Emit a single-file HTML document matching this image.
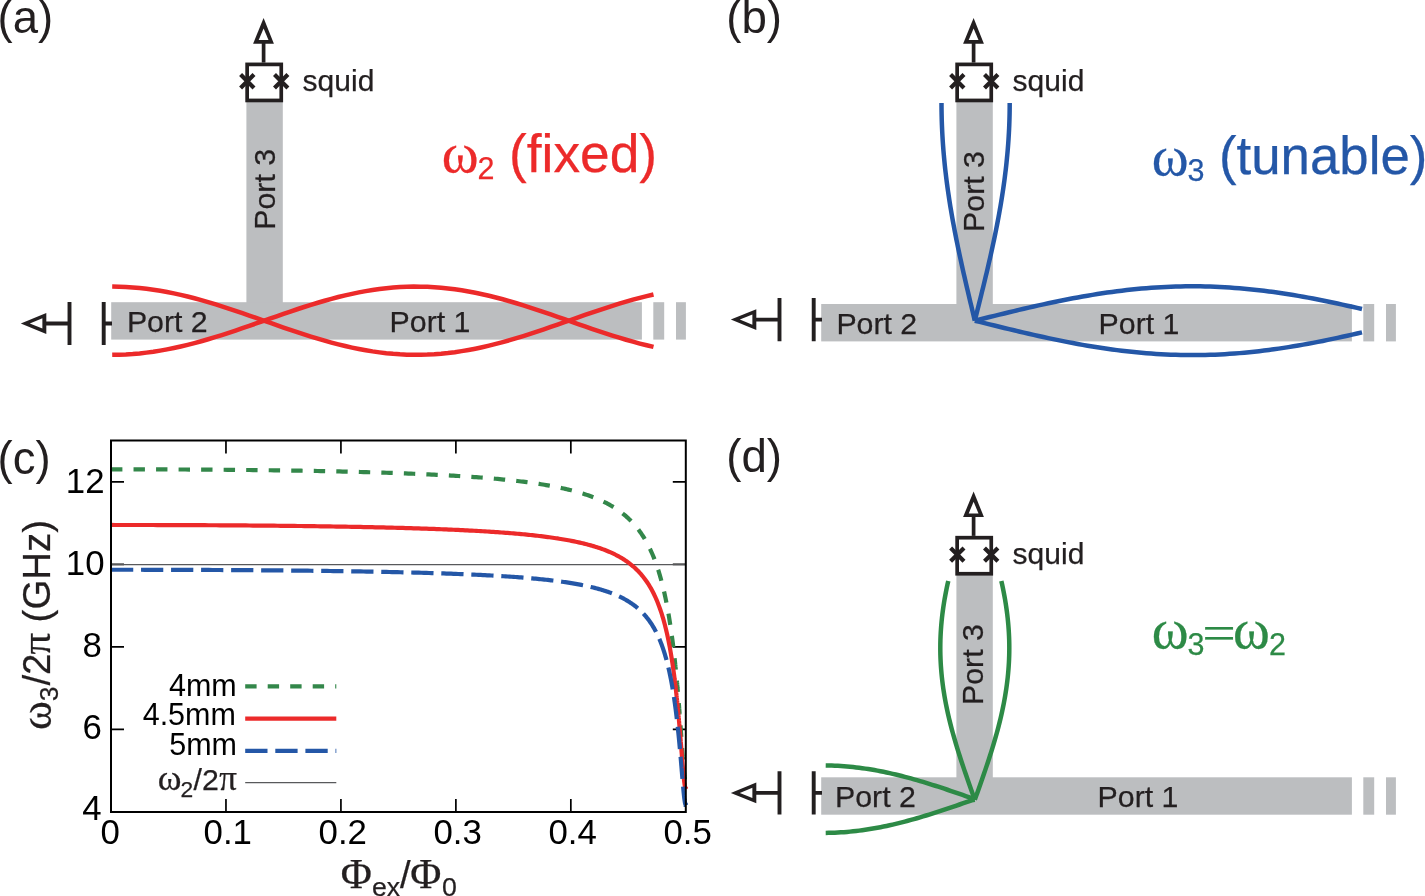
<!DOCTYPE html>
<html lang="en"><head><meta charset="utf-8"><title>Figure</title>
<style>html,body{margin:0;padding:0;background:#fff}svg{display:block}text{font-family:"Liberation Sans", sans-serif;fill:#231f20;stroke:#231f20;stroke-width:.25px}.pl{stroke:none}.sy{font-family:"Liberation Serif", serif}</style>
</head><body>
<svg width="1425" height="896" viewBox="0 0 1425 896">
<rect width="1425" height="896" fill="#fff"/>
<g id="panel-a">
<rect x="246.4" y="100" width="36.4" height="203.2" fill="#bcbec0"/>
<rect x="111.2" y="302.2" width="530.7" height="37.4" fill="#bcbec0"/>
<rect x="653.3" y="302.2" width="10.9" height="37.4" fill="#bcbec0"/>
<rect x="676" y="302.2" width="9.9" height="37.4" fill="#bcbec0"/>
<text x="126.9" y="331.8" font-size="30.3">Port 2</text>
<text x="389.6" y="331.8" font-size="30.3">Port 1</text>
<text transform="translate(274.7,229.7) rotate(-90)" font-size="30.3">Port 3</text>
<g transform="translate(0,0)" stroke="#231f20" fill="none" stroke-width="3.9">
<path d="M69.5,301.9V345.1M103.7,301.9V345.1M103.7,323.5H112M69.5,323.5H44"/>
<path d="M20.8,323.5L46.3,313.1V333.9Z" fill="#231f20" stroke="none"/>
<path d="M29.8,323.5L42.4,318.3V328.6Z" fill="#fff" stroke="none"/>
</g>
<g transform="translate(0,0)" stroke="#231f20" fill="none" stroke-width="3.7">
<rect x="247.15" y="64.4" width="34.1" height="36.05" fill="#fff"/>
<path d="M263.6,62.6V42"/>
<path d="M263.6,18.1L273.9,43.7H253.1Z" fill="#231f20" stroke="none"/>
<path d="M263.6,28.5L268.5,40.1H258.7Z" fill="#fff" stroke="none"/>
<path d="M240.6,74.6L254,88M254,74.6L240.6,88" stroke-width="4.2"/>
<path d="M274.5,74.6L287.9,88M287.9,74.6L274.5,88" stroke-width="4.2"/>
</g>
<text x="302.6" y="90.8" font-size="30">squid</text>
<path d="M112.2,286.6 L119.05,286.7 L125.9,286.97 L132.76,287.4 L139.61,288 L146.46,288.77 L153.31,289.69 L160.16,290.77 L167.02,292 L173.87,293.37 L180.72,294.88 L187.57,296.52 L194.42,298.28 L201.27,300.15 L208.13,302.12 L214.98,304.18 L221.83,306.33 L228.68,308.55 L235.53,310.83 L242.39,313.16 L249.24,315.53 L256.09,317.92 L262.94,320.33 L269.79,322.74 L276.65,325.13 L283.5,327.51 L290.35,329.85 L297.2,332.15 L304.05,334.39 L310.91,336.56 L317.76,338.65 L324.61,340.65 L331.46,342.56 L338.31,344.35 L345.16,346.03 L352.02,347.58 L358.87,348.99 L365.72,350.26 L372.57,351.39 L379.42,352.36 L386.28,353.18 L393.13,353.83 L399.98,354.32 L406.83,354.64 L413.68,354.79 L420.54,354.77 L427.39,354.58 L434.24,354.22 L441.09,353.69 L447.94,353 L454.79,352.15 L461.65,351.14 L468.5,349.98 L475.35,348.67 L482.2,347.22 L489.05,345.64 L495.91,343.94 L502.76,342.12 L509.61,340.19 L516.46,338.17 L523.31,336.05 L530.17,333.87 L537.02,331.61 L543.87,329.3 L550.72,326.95 L557.57,324.57 L564.43,322.17 L571.28,319.76 L578.13,317.35 L584.98,314.97 L591.83,312.61 L598.68,310.29 L605.54,308.02 L612.39,305.82 L619.24,303.69 L626.09,301.64 L632.94,299.69 L639.8,297.85 L646.65,296.12 L653.5,294.51" fill="none" stroke="#ec2a2a" stroke-width="4.5"/>
<path d="M112.2,354.8 L119.05,354.7 L125.9,354.43 L132.76,354 L139.61,353.4 L146.46,352.63 L153.31,351.71 L160.16,350.63 L167.02,349.4 L173.87,348.03 L180.72,346.52 L187.57,344.88 L194.42,343.12 L201.27,341.25 L208.13,339.28 L214.98,337.22 L221.83,335.07 L228.68,332.85 L235.53,330.57 L242.39,328.24 L249.24,325.87 L256.09,323.48 L262.94,321.07 L269.79,318.66 L276.65,316.27 L283.5,313.89 L290.35,311.55 L297.2,309.25 L304.05,307.01 L310.91,304.84 L317.76,302.75 L324.61,300.75 L331.46,298.84 L338.31,297.05 L345.16,295.37 L352.02,293.82 L358.87,292.41 L365.72,291.14 L372.57,290.01 L379.42,289.04 L386.28,288.22 L393.13,287.57 L399.98,287.08 L406.83,286.76 L413.68,286.61 L420.54,286.63 L427.39,286.82 L434.24,287.18 L441.09,287.71 L447.94,288.4 L454.79,289.25 L461.65,290.26 L468.5,291.42 L475.35,292.73 L482.2,294.18 L489.05,295.76 L495.91,297.46 L502.76,299.28 L509.61,301.21 L516.46,303.23 L523.31,305.35 L530.17,307.53 L537.02,309.79 L543.87,312.1 L550.72,314.45 L557.57,316.83 L564.43,319.23 L571.28,321.64 L578.13,324.05 L584.98,326.43 L591.83,328.79 L598.68,331.11 L605.54,333.38 L612.39,335.58 L619.24,337.71 L626.09,339.76 L632.94,341.71 L639.8,343.55 L646.65,345.28 L653.5,346.89" fill="none" stroke="#ec2a2a" stroke-width="4.5"/>
<text class="pl" x="-2.5" y="33.1" font-size="45.5">(a)</text>
<text x="441.8" y="172.4" font-size="56" class="sy" style="fill:#ec2a2a;stroke:#ec2a2a">ω</text>
<text x="477.4" y="178.9" font-size="30.5" style="fill:#ec2a2a;stroke:#ec2a2a">2</text>
<text x="509" y="171.7" font-size="53.3" style="fill:#ec2a2a;stroke:#ec2a2a">(fixed)</text>
</g>
<g id="panel-b">
<rect x="956.4" y="100" width="36.4" height="205" fill="#bcbec0"/>
<rect x="821.2" y="304" width="530.7" height="37.4" fill="#bcbec0"/>
<rect x="1363.3" y="304" width="10.9" height="37.4" fill="#bcbec0"/>
<rect x="1386" y="304" width="9.9" height="37.4" fill="#bcbec0"/>
<text x="836.4" y="333.6" font-size="30.3">Port 2</text>
<text x="1098.6" y="333.6" font-size="30.3">Port 1</text>
<text transform="translate(984.1,231.9) rotate(-90)" font-size="30.3">Port 3</text>
<g transform="translate(710,-3.9)" stroke="#231f20" fill="none" stroke-width="3.9">
<path d="M69.5,301.9V345.1M103.7,301.9V345.1M103.7,323.5H112M69.5,323.5H44"/>
<path d="M20.8,323.5L46.3,313.1V333.9Z" fill="#231f20" stroke="none"/>
<path d="M29.8,323.5L42.4,318.3V328.6Z" fill="#fff" stroke="none"/>
</g>
<g transform="translate(710,0)" stroke="#231f20" fill="none" stroke-width="3.7">
<rect x="247.15" y="64.4" width="34.1" height="36.05" fill="#fff"/>
<path d="M263.6,62.6V42"/>
<path d="M263.6,18.1L273.9,43.7H253.1Z" fill="#231f20" stroke="none"/>
<path d="M263.6,28.5L268.5,40.1H258.7Z" fill="#fff" stroke="none"/>
<path d="M240.6,74.6L254,88M254,74.6L240.6,88" stroke-width="4.2"/>
<path d="M274.5,74.6L287.9,88M287.9,74.6L274.5,88" stroke-width="4.2"/>
</g>
<text x="1012.6" y="90.8" font-size="30">squid</text>
<path d="M941.5,103 L941.51,106.69 L941.55,110.38 L941.61,114.06 L941.69,117.75 L941.79,121.44 L941.92,125.13 L942.08,128.82 L942.25,132.51 L942.45,136.19 L942.67,139.88 L942.92,143.57 L943.19,147.26 L943.47,150.95 L943.79,154.63 L944.12,158.32 L944.48,162.01 L944.85,165.7 L945.25,169.39 L945.67,173.07 L946.11,176.76 L946.57,180.45 L947.05,184.14 L947.55,187.83 L948.07,191.52 L948.61,195.2 L949.16,198.89 L949.74,202.58 L950.33,206.27 L950.94,209.96 L951.57,213.64 L952.21,217.33 L952.87,221.02 L953.55,224.71 L954.24,228.4 L954.94,232.08 L955.66,235.77 L956.39,239.46 L957.14,243.15 L957.89,246.84 L958.66,250.53 L959.45,254.21 L960.24,257.9 L961.04,261.59 L961.85,265.28 L962.67,268.97 L963.5,272.65 L964.34,276.34 L965.19,280.03 L966.04,283.72 L966.9,287.41 L967.76,291.09 L968.63,294.78 L969.5,298.47 L970.38,302.16 L971.26,305.85 L972.14,309.54 L973.03,313.22 L973.91,316.91 L974.8,320.6" fill="none" stroke="#2457a7" stroke-width="4.5" stroke-linejoin="miter"/>
<path d="M1009.7,103 L1009.69,106.69 L1009.65,110.38 L1009.59,114.06 L1009.5,117.75 L1009.39,121.44 L1009.26,125.13 L1009.1,128.82 L1008.91,132.51 L1008.7,136.19 L1008.47,139.88 L1008.21,143.57 L1007.93,147.26 L1007.63,150.95 L1007.3,154.63 L1006.95,158.32 L1006.58,162.01 L1006.19,165.7 L1005.77,169.39 L1005.33,173.07 L1004.87,176.76 L1004.39,180.45 L1003.88,184.14 L1003.36,187.83 L1002.81,191.52 L1002.25,195.2 L1001.67,198.89 L1001.06,202.58 L1000.44,206.27 L999.8,209.96 L999.15,213.64 L998.47,217.33 L997.78,221.02 L997.07,224.71 L996.35,228.4 L995.61,232.08 L994.86,235.77 L994.09,239.46 L993.31,243.15 L992.52,246.84 L991.71,250.53 L990.89,254.21 L990.06,257.9 L989.22,261.59 L988.37,265.28 L987.51,268.97 L986.64,272.65 L985.76,276.34 L984.88,280.03 L983.98,283.72 L983.08,287.41 L982.18,291.09 L981.27,294.78 L980.35,298.47 L979.43,302.16 L978.51,305.85 L977.58,309.54 L976.66,313.22 L975.73,316.91 L974.8,320.6" fill="none" stroke="#2457a7" stroke-width="4.5" stroke-linejoin="miter"/>
<path d="M974.8,320.7 L979.7,321.92 L984.6,323.13 L989.5,324.35 L994.41,325.55 L999.31,326.76 L1004.21,327.95 L1009.11,329.14 L1014.01,330.31 L1018.91,331.47 L1023.81,332.62 L1028.71,333.76 L1033.62,334.88 L1038.52,335.98 L1043.42,337.06 L1048.32,338.12 L1053.22,339.16 L1058.12,340.17 L1063.02,341.16 L1067.92,342.13 L1072.83,343.07 L1077.73,343.98 L1082.63,344.86 L1087.53,345.71 L1092.43,346.53 L1097.33,347.32 L1102.23,348.08 L1107.13,348.8 L1112.04,349.48 L1116.94,350.13 L1121.84,350.74 L1126.74,351.32 L1131.64,351.85 L1136.54,352.35 L1141.44,352.81 L1146.34,353.22 L1151.25,353.6 L1156.15,353.93 L1161.05,354.23 L1165.95,354.48 L1170.85,354.69 L1175.75,354.85 L1180.65,354.98 L1185.55,355.06 L1190.46,355.1 L1195.36,355.09 L1200.26,355.04 L1205.16,354.95 L1210.06,354.82 L1214.96,354.64 L1219.86,354.42 L1224.76,354.16 L1229.67,353.86 L1234.57,353.51 L1239.47,353.12 L1244.37,352.7 L1249.27,352.23 L1254.17,351.72 L1259.07,351.18 L1263.97,350.59 L1268.88,349.97 L1273.78,349.31 L1278.68,348.62 L1283.58,347.89 L1288.48,347.13 L1293.38,346.33 L1298.28,345.51 L1303.18,344.65 L1308.09,343.76 L1312.99,342.84 L1317.89,341.89 L1322.79,340.92 L1327.69,339.92 L1332.59,338.9 L1337.49,337.86 L1342.39,336.79 L1347.3,335.71 L1352.2,334.6 L1357.1,333.48 L1362,332.34" fill="none" stroke="#2457a7" stroke-width="4.5"/>
<path d="M974.8,320.7 L979.7,319.48 L984.6,318.27 L989.5,317.05 L994.41,315.85 L999.31,314.64 L1004.21,313.45 L1009.11,312.26 L1014.01,311.09 L1018.91,309.93 L1023.81,308.78 L1028.71,307.64 L1033.62,306.52 L1038.52,305.42 L1043.42,304.34 L1048.32,303.28 L1053.22,302.24 L1058.12,301.23 L1063.02,300.24 L1067.92,299.27 L1072.83,298.33 L1077.73,297.42 L1082.63,296.54 L1087.53,295.69 L1092.43,294.87 L1097.33,294.08 L1102.23,293.32 L1107.13,292.6 L1112.04,291.92 L1116.94,291.27 L1121.84,290.66 L1126.74,290.08 L1131.64,289.55 L1136.54,289.05 L1141.44,288.59 L1146.34,288.18 L1151.25,287.8 L1156.15,287.47 L1161.05,287.17 L1165.95,286.92 L1170.85,286.71 L1175.75,286.55 L1180.65,286.42 L1185.55,286.34 L1190.46,286.3 L1195.36,286.31 L1200.26,286.36 L1205.16,286.45 L1210.06,286.58 L1214.96,286.76 L1219.86,286.98 L1224.76,287.24 L1229.67,287.54 L1234.57,287.89 L1239.47,288.28 L1244.37,288.7 L1249.27,289.17 L1254.17,289.68 L1259.07,290.22 L1263.97,290.81 L1268.88,291.43 L1273.78,292.09 L1278.68,292.78 L1283.58,293.51 L1288.48,294.27 L1293.38,295.07 L1298.28,295.89 L1303.18,296.75 L1308.09,297.64 L1312.99,298.56 L1317.89,299.51 L1322.79,300.48 L1327.69,301.48 L1332.59,302.5 L1337.49,303.54 L1342.39,304.61 L1347.3,305.69 L1352.2,306.8 L1357.1,307.92 L1362,309.06" fill="none" stroke="#2457a7" stroke-width="4.5"/>
<text class="pl" x="726.2" y="32.9" font-size="45.7">(b)</text>
<text x="1151.8" y="174.7" font-size="56" class="sy" style="fill:#2457a7;stroke:#2457a7">ω</text>
<text x="1187.4" y="181.2" font-size="30.5" style="fill:#2457a7;stroke:#2457a7">3</text>
<text x="1219" y="174" font-size="52.8" style="fill:#2457a7;stroke:#2457a7">(tunable)</text>
</g>
<g id="panel-d">
<rect x="956.4" y="573.3" width="36.4" height="205" fill="#bcbec0"/>
<rect x="821.2" y="777.3" width="530.7" height="37.4" fill="#bcbec0"/>
<rect x="1363.3" y="777.3" width="10.9" height="37.4" fill="#bcbec0"/>
<rect x="1386" y="777.3" width="9.9" height="37.4" fill="#bcbec0"/>
<text x="835.0" y="806.7" font-size="30.3">Port 2</text>
<text x="1097.6" y="806.7" font-size="30.3">Port 1</text>
<text transform="translate(982.7,705) rotate(-90)" font-size="30.3">Port 3</text>
<g transform="translate(710,469.4)" stroke="#231f20" fill="none" stroke-width="3.9">
<path d="M69.5,301.9V345.1M103.7,301.9V345.1M103.7,323.5H112M69.5,323.5H44"/>
<path d="M20.8,323.5L46.3,313.1V333.9Z" fill="#231f20" stroke="none"/>
<path d="M29.8,323.5L42.4,318.3V328.6Z" fill="#fff" stroke="none"/>
</g>
<g transform="translate(710,473.3)" stroke="#231f20" fill="none" stroke-width="3.7">
<rect x="247.15" y="64.4" width="34.1" height="36.05" fill="#fff"/>
<path d="M263.6,62.6V42"/>
<path d="M263.6,18.1L273.9,43.7H253.1Z" fill="#231f20" stroke="none"/>
<path d="M263.6,28.5L268.5,40.1H258.7Z" fill="#fff" stroke="none"/>
<path d="M240.6,74.6L254,88M254,74.6L240.6,88" stroke-width="4.2"/>
<path d="M274.5,74.6L287.9,88M287.9,74.6L274.5,88" stroke-width="4.2"/>
</g>
<text x="1012.6" y="564.1" font-size="30">squid</text>
<path d="M948.29,580.9 L947.46,584.61 L946.67,588.32 L945.93,592.03 L945.22,595.74 L944.56,599.45 L943.95,603.16 L943.38,606.87 L942.85,610.58 L942.38,614.29 L941.95,618 L941.57,621.71 L941.24,625.42 L940.96,629.13 L940.72,632.84 L940.54,636.55 L940.41,640.26 L940.33,643.97 L940.3,647.68 L940.32,651.39 L940.39,655.1 L940.52,658.81 L940.69,662.52 L940.91,666.23 L941.19,669.94 L941.51,673.65 L941.88,677.36 L942.3,681.07 L942.77,684.78 L943.28,688.49 L943.85,692.21 L944.45,695.92 L945.11,699.63 L945.8,703.34 L946.54,707.05 L947.32,710.76 L948.14,714.47 L949,718.18 L949.9,721.89 L950.84,725.6 L951.81,729.31 L952.81,733.02 L953.85,736.73 L954.92,740.44 L956.01,744.15 L957.14,747.86 L958.29,751.57 L959.46,755.28 L960.66,758.99 L961.88,762.7 L963.12,766.41 L964.37,770.12 L965.64,773.83 L966.92,777.54 L968.22,781.25 L969.52,784.96 L970.84,788.67 L972.15,792.38 L973.48,796.09 L974.8,799.8" fill="none" stroke="#2d8a46" stroke-width="4.5"/>
<path d="M1001.31,580.9 L1002.14,584.61 L1002.93,588.32 L1003.67,592.03 L1004.38,595.74 L1005.04,599.45 L1005.65,603.16 L1006.22,606.87 L1006.75,610.58 L1007.22,614.29 L1007.65,618 L1008.03,621.71 L1008.36,625.42 L1008.64,629.13 L1008.88,632.84 L1009.06,636.55 L1009.19,640.26 L1009.27,643.97 L1009.3,647.68 L1009.28,651.39 L1009.21,655.1 L1009.08,658.81 L1008.91,662.52 L1008.69,666.23 L1008.41,669.94 L1008.09,673.65 L1007.72,677.36 L1007.3,681.07 L1006.83,684.78 L1006.32,688.49 L1005.75,692.21 L1005.15,695.92 L1004.49,699.63 L1003.8,703.34 L1003.06,707.05 L1002.28,710.76 L1001.46,714.47 L1000.6,718.18 L999.7,721.89 L998.76,725.6 L997.79,729.31 L996.79,733.02 L995.75,736.73 L994.68,740.44 L993.59,744.15 L992.46,747.86 L991.31,751.57 L990.14,755.28 L988.94,758.99 L987.72,762.7 L986.48,766.41 L985.23,770.12 L983.96,773.83 L982.68,777.54 L981.38,781.25 L980.08,784.96 L978.76,788.67 L977.45,792.38 L976.12,796.09 L974.8,799.8" fill="none" stroke="#2d8a46" stroke-width="4.5"/>
<path d="M825.7,765.51 L828.74,765.55 L831.79,765.62 L834.83,765.73 L837.87,765.87 L840.91,766.05 L843.96,766.26 L847,766.5 L850.04,766.77 L853.09,767.08 L856.13,767.42 L859.17,767.78 L862.21,768.19 L865.26,768.62 L868.3,769.08 L871.34,769.57 L874.39,770.09 L877.43,770.65 L880.47,771.23 L883.51,771.83 L886.56,772.47 L889.6,773.13 L892.64,773.82 L895.69,774.53 L898.73,775.27 L901.77,776.03 L904.81,776.81 L907.86,777.62 L910.9,778.45 L913.94,779.3 L916.99,780.17 L920.03,781.05 L923.07,781.96 L926.11,782.88 L929.16,783.82 L932.2,784.78 L935.24,785.75 L938.29,786.73 L941.33,787.72 L944.37,788.73 L947.41,789.75 L950.46,790.77 L953.5,791.81 L956.54,792.85 L959.59,793.9 L962.63,794.95 L965.67,796.01 L968.71,797.07 L971.76,798.14 L974.8,799.8" fill="none" stroke="#2d8a46" stroke-width="4.5"/>
<path d="M825.7,832.89 L828.74,832.85 L831.79,832.78 L834.83,832.67 L837.87,832.53 L840.91,832.35 L843.96,832.14 L847,831.9 L850.04,831.63 L853.09,831.32 L856.13,830.98 L859.17,830.62 L862.21,830.21 L865.26,829.78 L868.3,829.32 L871.34,828.83 L874.39,828.31 L877.43,827.75 L880.47,827.17 L883.51,826.57 L886.56,825.93 L889.6,825.27 L892.64,824.58 L895.69,823.87 L898.73,823.13 L901.77,822.37 L904.81,821.59 L907.86,820.78 L910.9,819.95 L913.94,819.1 L916.99,818.23 L920.03,817.35 L923.07,816.44 L926.11,815.52 L929.16,814.58 L932.2,813.62 L935.24,812.65 L938.29,811.67 L941.33,810.68 L944.37,809.67 L947.41,808.65 L950.46,807.63 L953.5,806.59 L956.54,805.55 L959.59,804.5 L962.63,803.45 L965.67,802.39 L968.71,801.33 L971.76,800.26 L974.8,799.8" fill="none" stroke="#2d8a46" stroke-width="4.5"/>
<text class="pl" x="726.2" y="472.2" font-size="45.7">(d)</text>
<text x="1151.8" y="648" font-size="56" class="sy" style="fill:#2d8a46;stroke:#2d8a46">ω</text>
<text x="1187.6" y="655" font-size="30.5" style="fill:#2d8a46;stroke:#2d8a46">3</text>
<text transform="translate(1202.2,650.1) scale(1,0.85)" font-size="59.6" class="sy" style="fill:#2d8a46;stroke:#2d8a46">=</text>
<text x="1232.9" y="648" font-size="56" class="sy" style="fill:#2d8a46;stroke:#2d8a46">ω</text>
<text x="1269" y="654.8" font-size="30.5" style="fill:#2d8a46;stroke:#2d8a46">2</text>
</g>
<g id="panel-c">
<path d="M225.96,440.5v13M225.96,812.0v-13M340.92,440.5v13M340.92,812.0v-13M455.88,440.5v13M455.88,812.0v-13M570.84,440.5v13M570.84,812.0v-13M111.0,481.78h13M685.8,481.78h-13M111.0,564.33h13M685.8,564.33h-13M111.0,646.89h13M685.8,646.89h-13M111.0,729.44h13M685.8,729.44h-13" stroke="#000" stroke-width="1.7" fill="none"/>
<path d="M111.0,564.63H685.8" stroke="#58595b" stroke-width="1.2" fill="none"/>
<path d="M111,469.32 L115.31,469.32 L119.6,469.32 L123.87,469.32 L128.11,469.33 L132.34,469.33 L136.54,469.34 L140.72,469.35 L144.89,469.36 L149.03,469.37 L153.14,469.38 L157.24,469.39 L161.32,469.4 L165.37,469.42 L169.41,469.44 L173.42,469.45 L177.41,469.47 L181.38,469.49 L185.34,469.51 L189.27,469.53 L193.18,469.55 L197.06,469.58 L200.93,469.6 L204.78,469.63 L208.61,469.65 L212.42,469.68 L216.2,469.71 L219.97,469.74 L223.72,469.77 L227.44,469.8 L231.15,469.84 L234.84,469.87 L238.5,469.91 L242.15,469.94 L245.78,469.98 L249.38,470.02 L252.97,470.06 L256.54,470.1 L260.08,470.14 L263.61,470.18 L267.12,470.23 L270.61,470.27 L274.08,470.32 L277.53,470.36 L280.96,470.41 L284.37,470.46 L287.76,470.51 L291.14,470.56 L294.49,470.61 L297.83,470.67 L301.14,470.72 L304.44,470.78 L307.72,470.83 L310.98,470.89 L314.22,470.95 L317.44,471.01 L320.64,471.07 L323.83,471.14 L326.99,471.2 L330.14,471.27 L333.27,471.33 L336.38,471.4 L339.47,471.47 L342.55,471.54 L345.6,471.61 L348.64,471.68 L351.66,471.76 L354.66,471.83 L357.64,471.91 L360.61,471.99 L363.56,472.07 L366.48,472.15 L369.4,472.23 L372.29,472.31 L375.17,472.4 L378.03,472.48 L380.87,472.57 L383.69,472.66 L386.5,472.75 L389.28,472.84 L392.06,472.94 L394.81,473.03 L397.55,473.13 L400.27,473.23 L402.97,473.33 L405.65,473.43 L408.32,473.53 L410.97,473.64 L413.61,473.74 L416.22,473.85 L418.82,473.96 L421.41,474.08 L423.97,474.19 L426.52,474.3 L429.06,474.42 L431.57,474.54 L434.08,474.66 L436.56,474.79 L439.03,474.91 L441.48,475.04 L443.91,475.17 L446.33,475.3 L448.74,475.43 L451.12,475.57 L453.49,475.7 L455.85,475.84 L458.18,475.99 L460.51,476.13 L462.81,476.28 L465.11,476.42 L467.38,476.57 L469.64,476.73 L471.88,476.88 L474.11,477.04 L476.32,477.2 L478.52,477.37 L480.7,477.53 L482.87,477.7 L485.02,477.87 L487.16,478.04 L489.28,478.22 L491.38,478.4 L493.47,478.58 L495.55,478.77 L497.61,478.96 L499.66,479.15 L501.69,479.34 L503.7,479.54 L505.7,479.74 L507.69,479.94 L509.66,480.15 L511.62,480.36 L513.56,480.57 L515.49,480.79 L517.4,481.01 L519.3,481.23 L521.19,481.46 L523.06,481.69 L524.91,481.93 L526.76,482.16 L528.58,482.41 L530.4,482.65 L532.2,482.9 L533.98,483.16 L535.76,483.42 L537.51,483.68 L539.26,483.95 L540.99,484.22 L542.71,484.49 L544.41,484.78 L546.1,485.06 L547.78,485.35 L549.44,485.65 L551.09,485.94 L552.73,486.25 L554.35,486.56 L555.96,486.87 L557.55,487.19 L559.14,487.52 L560.71,487.85 L562.26,488.19 L563.81,488.53 L565.34,488.88 L566.86,489.23 L568.36,489.59 L569.86,489.96 L571.34,490.33 L572.8,490.71 L574.26,491.09 L575.7,491.48 L577.13,491.88 L578.55,492.29 L579.95,492.7 L581.35,493.12 L582.73,493.54 L584.1,493.98 L585.45,494.42 L586.8,494.87 L588.13,495.32 L589.45,495.79 L590.75,496.26 L592.05,496.74 L593.34,497.23 L594.61,497.73 L595.87,498.24 L597.12,498.75 L598.35,499.28 L599.58,499.81 L600.79,500.36 L602,500.91 L603.19,501.48 L604.37,502.05 L605.54,502.63 L606.7,503.23 L607.84,503.83 L608.98,504.45 L610.1,505.08 L611.21,505.71 L612.32,506.36 L613.41,507.03 L614.49,507.7 L615.56,508.39 L616.62,509.08 L617.67,509.8 L618.7,510.52 L619.73,511.26 L620.75,512.01 L621.75,512.77 L622.75,513.55 L623.73,514.34 L624.71,515.15 L625.67,515.97 L626.63,516.81 L627.57,517.66 L628.51,518.53 L629.43,519.42 L630.34,520.32 L631.25,521.23 L632.14,522.17 L633.03,523.12 L633.9,524.09 L634.77,525.08 L635.62,526.08 L636.47,527.11 L637.3,528.15 L638.13,529.21 L638.95,530.29 L639.75,531.39 L640.55,532.51 L641.34,533.66 L642.12,534.82 L642.89,536 L643.65,537.21 L644.41,538.44 L645.15,539.69 L645.89,540.96 L646.61,542.26 L647.33,543.58 L648.04,544.92 L648.74,546.29 L649.43,547.68 L650.11,549.1 L650.78,550.54 L651.45,552.01 L652.1,553.5 L652.75,555.02 L653.39,556.57 L654.02,558.14 L654.64,559.74 L655.26,561.37 L655.87,563.03 L656.47,564.71 L657.06,566.43 L657.64,568.17 L658.21,569.94 L658.78,571.74 L659.34,573.58 L659.89,575.44 L660.43,577.33 L660.97,579.25 L661.5,581.2 L662.02,583.18 L662.53,585.2 L663.04,587.24 L663.54,589.32 L664.03,591.43 L664.51,593.56 L664.99,595.73 L665.46,597.93 L665.92,600.16 L666.37,602.43 L666.82,604.72 L667.26,607.04 L667.7,609.4 L668.13,611.78 L668.55,614.2 L668.96,616.64 L669.37,619.11 L669.77,621.62 L670.16,624.15 L670.55,626.71 L670.93,629.29 L671.31,631.9 L671.68,634.54 L672.04,637.21 L672.39,639.89 L672.74,642.6 L673.09,645.34 L673.42,648.09 L673.76,650.87 L674.08,653.66 L674.3,655.61 L674.34,655.95 L674.38,656.29 L674.4,656.47 L674.42,656.64 L674.46,656.98 L674.5,657.32 L674.53,657.67 L674.57,658.02 L674.61,658.36 L674.65,658.71 L674.69,659.06 L674.71,659.3 L674.73,659.41 L674.77,659.76 L674.8,660.12 L674.84,660.47 L674.88,660.82 L674.92,661.18 L674.96,661.54 L675,661.89 L675.02,662.14 L675.03,662.25 L675.07,662.61 L675.11,662.97 L675.15,663.34 L675.19,663.7 L675.23,664.06 L675.27,664.43 L675.3,664.8 L675.32,665 L675.34,665.16 L675.38,665.53 L675.42,665.9 L675.46,666.27 L675.5,666.64 L675.53,667.02 L675.57,667.39 L675.61,667.77 L675.62,667.86 L675.65,668.14 L675.69,668.52 L675.73,668.9 L675.77,669.28 L675.8,669.66 L675.84,670.04 L675.88,670.43 L675.91,670.74 L675.92,670.81 L675.96,671.2 L676,671.58 L676.03,671.97 L676.07,672.36 L676.11,672.75 L676.15,673.14 L676.19,673.53 L676.2,673.63 L676.23,673.93 L676.26,674.32 L676.3,674.72 L676.34,675.12 L676.38,675.51 L676.42,675.91 L676.46,676.31 L676.48,676.52 L676.5,676.72 L676.53,677.12 L676.57,677.52 L676.61,677.93 L676.65,678.34 L676.69,678.74 L676.73,679.15 L676.75,679.42 L676.76,679.56 L676.8,679.97 L676.84,680.39 L676.88,680.8 L676.92,681.22 L676.96,681.63 L677,682.05 L677.02,682.32 L677.03,682.47 L677.07,682.89 L677.11,683.31 L677.15,683.73 L677.19,684.16 L677.23,684.58 L677.26,685.01 L677.28,685.22 L677.3,685.44 L677.34,685.87 L677.38,686.3 L677.42,686.73 L677.46,687.16 L677.5,687.59 L677.53,688.03 L677.54,688.11 L677.57,688.46 L677.61,688.9 L677.65,689.34 L677.69,689.78 L677.73,690.22 L677.76,690.66 L677.79,691.01 L677.8,691.11 L677.84,691.55 L677.88,692 L677.92,692.45 L677.96,692.9 L678,693.35 L678.03,693.8 L678.04,693.89 L678.07,694.25 L678.11,694.71 L678.15,695.16 L678.19,695.62 L678.23,696.08 L678.26,696.53 L678.28,696.77 L678.3,696.99 L678.34,697.46 L678.38,697.92 L678.42,698.38 L678.46,698.85 L678.49,699.32 L678.52,699.64 L678.53,699.78 L678.57,700.25 L678.61,700.72 L678.65,701.2 L678.69,701.67 L678.73,702.14 L678.75,702.49 L678.76,702.62 L678.8,703.1 L678.84,703.57 L678.88,704.05 L678.92,704.53 L678.96,705.01 L678.98,705.33 L678.99,705.5 L679.03,705.98 L679.07,706.47 L679.11,706.95 L679.15,707.44 L679.19,707.93 L679.2,708.14 L679.23,708.42 L679.26,708.91 L679.3,709.41 L679.34,709.9 L679.38,710.4 L679.42,710.89 L679.42,710.93 L679.46,711.39 L679.49,711.89 L679.53,712.39 L679.57,712.89 L679.61,713.39 L679.63,713.7 L679.65,713.9 L679.69,714.4 L679.73,714.91 L679.76,715.41 L679.8,715.92 L679.84,716.43 L679.84,716.44 L679.88,716.94 L679.92,717.45 L679.96,717.96 L679.99,718.48 L680.03,718.99 L680.04,719.15 L680.07,719.51 L680.11,720.02 L680.15,720.54 L680.19,721.06 L680.23,721.58 L680.24,721.82 L680.26,722.1 L680.3,722.62 L680.34,723.14 L680.38,723.66 L680.42,724.19 L680.44,724.45 L680.46,724.71 L680.49,725.24 L680.53,725.77 L680.57,726.29 L680.61,726.82 L680.63,727.05 L680.65,727.35 L680.69,727.88 L680.72,728.41 L680.76,728.94 L680.8,729.48 L680.81,729.6 L680.84,730.01 L680.88,730.54 L680.92,731.08 L680.96,731.61 L680.99,732.1 L680.99,732.14 L681.03,732.68 L681.07,733.22 L681.11,733.75 L681.15,734.29 L681.17,734.56 L681.19,734.83 L681.22,735.37 L681.26,735.9 L681.3,736.44 L681.34,736.96 L681.34,736.98 L681.38,737.52 L681.42,738.06 L681.46,738.6 L681.49,739.14 L681.51,739.31 L681.53,739.68 L681.57,740.22 L681.61,740.76 L681.65,741.3 L681.67,741.6 L681.69,741.84 L681.72,742.38 L681.76,742.92 L681.8,743.46 L681.83,743.83 L681.84,744 L681.88,744.54 L681.92,745.08 L681.96,745.61 L681.98,746 L681.99,746.15 L682.03,746.69 L682.07,747.22 L682.11,747.76 L682.13,748.1 L682.15,748.3 L682.19,748.83 L682.22,749.36 L682.26,749.9 L682.28,750.13 L682.3,750.43 L682.34,750.96 L682.38,751.49 L682.42,752.02 L682.42,752.1 L682.46,752.54 L682.49,753.07 L682.53,753.59 L682.56,753.99 L682.57,754.12 L682.61,754.64 L682.65,755.16 L682.69,755.68 L682.7,755.82 L682.72,756.19 L682.76,756.71 L682.8,757.22 L682.83,757.57 L682.84,757.73 L682.88,758.24 L682.92,758.74 L682.95,759.24 L682.95,759.25 L682.99,759.75 L683.03,760.25 L683.07,760.74 L683.08,760.85 L683.11,761.23 L683.15,761.72 L683.19,762.21 L683.2,762.38 L683.22,762.7 L683.26,763.18 L683.3,763.65 L683.31,763.83 L683.34,764.13 L683.38,764.6 L683.42,765.07 L683.43,765.21 L683.45,765.53 L683.49,765.99 L683.53,766.45 L683.54,766.51 L683.57,766.9 L683.61,767.34 L683.64,767.75 L683.65,767.79 L683.69,768.23 L683.72,768.66 L683.75,768.91 L683.76,769.09 L683.8,769.51 L683.84,769.93 L683.85,770 L683.88,770.35 L683.92,770.75 L683.94,771.02 L683.95,771.16 L683.99,771.56 L684.03,771.95 L684.03,771.98 L684.07,772.33 L684.11,772.71 L684.12,772.87 L684.15,773.09 L684.19,773.46 L684.21,773.7 L684.22,773.82 L684.26,774.17 L684.29,774.47 L684.3,774.52 L684.34,774.87 L684.38,775.18 L684.38,775.2 L684.42,775.53 L684.45,775.84 L684.45,775.85 L684.49,776.16 L684.53,776.44 L684.53,776.47 L684.57,776.77 L684.6,777 L684.61,777.06 L684.65,777.34 L684.67,777.5 L684.69,777.62 L684.72,777.88 L684.74,777.97 L684.76,778.14 L684.8,778.39 L684.8,778.39 L684.84,778.64 L684.86,778.77 L684.88,778.87 L684.92,779.1 L684.92,779.12 L684.95,779.31 L684.98,779.43 L684.99,779.52" fill="none" stroke="#33874a" stroke-width="4.2" stroke-dasharray="11.4 11.13"/>
<path d="M111,524.97 L115.31,524.98 L119.6,524.98 L123.87,524.98 L128.11,524.98 L132.34,524.99 L136.54,524.99 L140.72,525 L144.89,525 L149.03,525.01 L153.14,525.02 L157.24,525.03 L161.32,525.04 L165.37,525.05 L169.41,525.06 L173.42,525.08 L177.41,525.09 L181.38,525.1 L185.34,525.12 L189.27,525.13 L193.18,525.15 L197.06,525.17 L200.93,525.19 L204.78,525.21 L208.61,525.23 L212.42,525.25 L216.2,525.27 L219.97,525.29 L223.72,525.31 L227.44,525.34 L231.15,525.36 L234.84,525.39 L238.5,525.41 L242.15,525.44 L245.78,525.47 L249.38,525.5 L252.97,525.53 L256.54,525.56 L260.08,525.59 L263.61,525.62 L267.12,525.65 L270.61,525.69 L274.08,525.72 L277.53,525.76 L280.96,525.79 L284.37,525.83 L287.76,525.86 L291.14,525.9 L294.49,525.94 L297.83,525.98 L301.14,526.02 L304.44,526.06 L307.72,526.11 L310.98,526.15 L314.22,526.19 L317.44,526.24 L320.64,526.29 L323.83,526.33 L326.99,526.38 L330.14,526.43 L333.27,526.48 L336.38,526.53 L339.47,526.58 L342.55,526.63 L345.6,526.69 L348.64,526.74 L351.66,526.8 L354.66,526.85 L357.64,526.91 L360.61,526.97 L363.56,527.03 L366.48,527.09 L369.4,527.15 L372.29,527.21 L375.17,527.28 L378.03,527.34 L380.87,527.41 L383.69,527.47 L386.5,527.54 L389.28,527.61 L392.06,527.68 L394.81,527.75 L397.55,527.82 L400.27,527.9 L402.97,527.97 L405.65,528.05 L408.32,528.13 L410.97,528.21 L413.61,528.29 L416.22,528.37 L418.82,528.45 L421.41,528.53 L423.97,528.62 L426.52,528.71 L429.06,528.79 L431.57,528.88 L434.08,528.97 L436.56,529.07 L439.03,529.16 L441.48,529.26 L443.91,529.35 L446.33,529.45 L448.74,529.55 L451.12,529.65 L453.49,529.76 L455.85,529.86 L458.18,529.97 L460.51,530.08 L462.81,530.19 L465.11,530.3 L467.38,530.41 L469.64,530.53 L471.88,530.64 L474.11,530.76 L476.32,530.89 L478.52,531.01 L480.7,531.13 L482.87,531.26 L485.02,531.39 L487.16,531.52 L489.28,531.65 L491.38,531.79 L493.47,531.93 L495.55,532.06 L497.61,532.21 L499.66,532.35 L501.69,532.5 L503.7,532.65 L505.7,532.8 L507.69,532.95 L509.66,533.11 L511.62,533.27 L513.56,533.43 L515.49,533.59 L517.4,533.76 L519.3,533.93 L521.19,534.1 L523.06,534.27 L524.91,534.45 L526.76,534.63 L528.58,534.82 L530.4,535 L532.2,535.19 L533.98,535.38 L535.76,535.58 L537.51,535.78 L539.26,535.98 L540.99,536.19 L542.71,536.4 L544.41,536.61 L546.1,536.83 L547.78,537.05 L549.44,537.27 L551.09,537.5 L552.73,537.73 L554.35,537.97 L555.96,538.21 L557.55,538.45 L559.14,538.7 L560.71,538.95 L562.26,539.21 L563.81,539.47 L565.34,539.73 L566.86,540 L568.36,540.28 L569.86,540.55 L571.34,540.84 L572.8,541.13 L574.26,541.42 L575.7,541.72 L577.13,542.03 L578.55,542.34 L579.95,542.65 L581.35,542.97 L582.73,543.3 L584.1,543.63 L585.45,543.97 L586.8,544.31 L588.13,544.66 L589.45,545.02 L590.75,545.38 L592.05,545.75 L593.34,546.13 L594.61,546.51 L595.87,546.9 L597.12,547.3 L598.35,547.7 L599.58,548.11 L600.79,548.53 L602,548.96 L603.19,549.4 L604.37,549.84 L605.54,550.29 L606.7,550.75 L607.84,551.22 L608.98,551.69 L610.1,552.18 L611.21,552.67 L612.32,553.18 L613.41,553.69 L614.49,554.21 L615.56,554.75 L616.62,555.29 L617.67,555.84 L618.7,556.4 L619.73,556.98 L620.75,557.56 L621.75,558.16 L622.75,558.77 L623.73,559.39 L624.71,560.02 L625.67,560.66 L626.63,561.32 L627.57,561.98 L628.51,562.66 L629.43,563.36 L630.34,564.07 L631.25,564.79 L632.14,565.52 L633.03,566.27 L633.9,567.03 L634.77,567.81 L635.62,568.6 L636.47,569.41 L637.3,570.24 L638.13,571.08 L638.95,571.93 L639.75,572.81 L640.55,573.7 L641.34,574.6 L642.12,575.53 L642.89,576.47 L643.65,577.43 L644.41,578.41 L645.15,579.41 L645.89,580.43 L646.61,581.47 L647.33,582.53 L648.04,583.6 L648.74,584.7 L649.43,585.82 L650.11,586.96 L650.78,588.13 L651.45,589.31 L652.1,590.52 L652.75,591.75 L653.39,593.01 L654.02,594.28 L654.64,595.59 L655.26,596.91 L655.87,598.26 L656.47,599.64 L657.06,601.04 L657.64,602.47 L658.21,603.92 L658.78,605.4 L659.34,606.91 L659.89,608.44 L660.43,610 L660.97,611.59 L661.5,613.2 L662.02,614.85 L662.53,616.52 L663.04,618.22 L663.54,619.95 L664.03,621.71 L664.51,623.5 L664.99,625.31 L665.46,627.16 L665.92,629.03 L666.37,630.94 L666.82,632.87 L667.26,634.83 L667.7,636.83 L668.13,638.85 L668.55,640.9 L668.96,642.98 L669.37,645.08 L669.77,647.22 L670.16,649.38 L670.55,651.58 L670.93,653.8 L671.31,656.04 L671.68,658.31 L672.04,660.61 L672.39,662.93 L672.74,665.28 L673.09,667.65 L673.42,670.04 L673.76,672.45 L674.08,674.89 L674.3,676.59 L674.34,676.89 L674.38,677.19 L674.4,677.34 L674.42,677.49 L674.46,677.79 L674.5,678.09 L674.53,678.39 L674.57,678.69 L674.61,678.99 L674.65,679.3 L674.69,679.61 L674.71,679.81 L674.73,679.91 L674.77,680.22 L674.8,680.53 L674.84,680.84 L674.88,681.15 L674.92,681.46 L674.96,681.77 L675,682.09 L675.02,682.3 L675.03,682.4 L675.07,682.72 L675.11,683.03 L675.15,683.35 L675.19,683.67 L675.23,683.99 L675.27,684.31 L675.3,684.63 L675.32,684.81 L675.34,684.95 L675.38,685.28 L675.42,685.6 L675.46,685.93 L675.5,686.25 L675.53,686.58 L675.57,686.91 L675.61,687.24 L675.62,687.32 L675.65,687.57 L675.69,687.9 L675.73,688.23 L675.77,688.57 L675.8,688.9 L675.84,689.24 L675.88,689.58 L675.91,689.85 L675.92,689.92 L675.96,690.25 L676,690.59 L676.03,690.94 L676.07,691.28 L676.11,691.62 L676.15,691.97 L676.19,692.31 L676.2,692.4 L676.23,692.66 L676.26,693.01 L676.3,693.36 L676.34,693.71 L676.38,694.06 L676.42,694.41 L676.46,694.76 L676.48,694.95 L676.5,695.12 L676.53,695.48 L676.57,695.83 L676.61,696.19 L676.65,696.55 L676.69,696.91 L676.73,697.27 L676.75,697.5 L676.76,697.63 L676.8,698 L676.84,698.36 L676.88,698.73 L676.92,699.1 L676.96,699.46 L677,699.83 L677.02,700.07 L677.03,700.2 L677.07,700.58 L677.11,700.95 L677.15,701.32 L677.19,701.7 L677.23,702.07 L677.26,702.45 L677.28,702.64 L677.3,702.83 L677.34,703.21 L677.38,703.59 L677.42,703.97 L677.46,704.36 L677.5,704.74 L677.53,705.13 L677.54,705.2 L677.57,705.51 L677.61,705.9 L677.65,706.29 L677.69,706.68 L677.73,707.07 L677.76,707.47 L677.79,707.77 L677.8,707.86 L677.84,708.26 L677.88,708.65 L677.92,709.05 L677.96,709.45 L678,709.85 L678.03,710.25 L678.04,710.34 L678.07,710.65 L678.11,711.06 L678.15,711.46 L678.19,711.87 L678.23,712.27 L678.26,712.68 L678.28,712.9 L678.3,713.09 L678.34,713.5 L678.38,713.92 L678.42,714.33 L678.46,714.74 L678.49,715.16 L678.52,715.45 L678.53,715.58 L678.57,715.99 L678.61,716.41 L678.65,716.83 L678.69,717.25 L678.73,717.68 L678.75,717.99 L678.76,718.1 L678.8,718.53 L678.84,718.95 L678.88,719.38 L678.92,719.81 L678.96,720.24 L678.98,720.52 L678.99,720.67 L679.03,721.1 L679.07,721.54 L679.11,721.97 L679.15,722.41 L679.19,722.84 L679.2,723.03 L679.23,723.28 L679.26,723.72 L679.3,724.16 L679.34,724.6 L679.38,725.04 L679.42,725.49 L679.42,725.52 L679.46,725.93 L679.49,726.38 L679.53,726.82 L679.57,727.27 L679.61,727.72 L679.63,728 L679.65,728.17 L679.69,728.62 L679.73,729.07 L679.76,729.53 L679.8,729.98 L679.84,730.44 L679.84,730.44 L679.88,730.89 L679.92,731.35 L679.96,731.81 L679.99,732.27 L680.03,732.73 L680.04,732.87 L680.07,733.19 L680.11,733.65 L680.15,734.12 L680.19,734.58 L680.23,735.04 L680.24,735.26 L680.26,735.51 L680.3,735.98 L680.34,736.44 L680.38,736.91 L680.42,737.38 L680.44,737.62 L680.46,737.85 L680.49,738.32 L680.53,738.8 L680.57,739.27 L680.61,739.74 L680.63,739.94 L680.65,740.22 L680.69,740.69 L680.72,741.17 L680.76,741.64 L680.8,742.12 L680.81,742.23 L680.84,742.6 L680.88,743.08 L680.92,743.55 L680.96,744.03 L680.99,744.48 L680.99,744.51 L681.03,744.99 L681.07,745.47 L681.11,745.96 L681.15,746.44 L681.17,746.68 L681.19,746.92 L681.22,747.4 L681.26,747.88 L681.3,748.37 L681.34,748.83 L681.34,748.85 L681.38,749.33 L681.42,749.82 L681.46,750.3 L681.49,750.79 L681.51,750.94 L681.53,751.27 L681.57,751.75 L681.61,752.24 L681.65,752.72 L681.67,752.99 L681.69,753.21 L681.72,753.69 L681.76,754.17 L681.8,754.66 L681.83,754.99 L681.84,755.14 L681.88,755.62 L681.92,756.11 L681.96,756.59 L681.98,756.93 L681.99,757.07 L682.03,757.55 L682.07,758.03 L682.11,758.51 L682.13,758.81 L682.15,758.99 L682.19,759.47 L682.22,759.95 L682.26,760.43 L682.28,760.64 L682.3,760.9 L682.34,761.38 L682.38,761.85 L682.42,762.33 L682.42,762.4 L682.46,762.8 L682.49,763.27 L682.53,763.74 L682.56,764.1 L682.57,764.21 L682.61,764.67 L682.65,765.14 L682.69,765.6 L682.7,765.73 L682.72,766.06 L682.76,766.52 L682.8,766.98 L682.83,767.29 L682.84,767.44 L682.88,767.89 L682.92,768.34 L682.95,768.79 L682.95,768.79 L682.99,769.24 L683.03,769.69 L683.07,770.13 L683.08,770.23 L683.11,770.57 L683.15,771.01 L683.19,771.45 L683.2,771.59 L683.22,771.88 L683.26,772.31 L683.3,772.73 L683.31,772.89 L683.34,773.16 L683.38,773.58 L683.42,773.99 L683.43,774.12 L683.45,774.41 L683.49,774.82 L683.53,775.22 L683.54,775.28 L683.57,775.63 L683.61,776.03 L683.64,776.38 L683.65,776.42 L683.69,776.81 L683.72,777.2 L683.75,777.42 L683.76,777.58 L683.8,777.96 L683.84,778.33 L683.85,778.39 L683.88,778.7 L683.92,779.06 L683.94,779.3 L683.95,779.42 L683.99,779.78 L684.03,780.12 L684.03,780.15 L684.07,780.47 L684.11,780.81 L684.12,780.94 L684.15,781.14 L684.19,781.47 L684.21,781.68 L684.22,781.79 L684.26,782.1 L684.29,782.36 L684.3,782.41 L684.34,782.72 L684.38,783 L684.38,783.01 L684.42,783.31 L684.45,783.58 L684.45,783.59 L684.49,783.87 L684.53,784.11 L684.53,784.14 L684.57,784.4 L684.6,784.61 L684.61,784.66 L684.65,784.91 L684.67,785.06 L684.69,785.16 L684.72,785.39 L684.74,785.47 L684.76,785.62 L684.8,785.84 L684.8,785.85 L684.84,786.06 L684.86,786.18 L684.88,786.27 L684.92,786.47 L684.92,786.49 L684.95,786.66 L684.98,786.76 L684.99,786.84 L685.03,787.01 L685.03,787.02 L685.07,787.19 L685.08,787.23 L685.11,787.35 L685.13,787.43 L685.15,787.5 L685.18,787.61 L685.18,787.64 L685.22,787.77 L685.22,787.78 L685.26,787.9 L685.26,787.91 L685.3,788.02 L685.3,788.03 L685.34,788.13 L685.34,788.14 L685.38,788.23 L685.38,788.23 L685.41,788.32 L685.42,788.32 L685.44,788.39 L685.45,788.41 L685.47,788.45 L685.49,788.48 L685.5,788.5 L685.53,788.55 L685.53,788.55 L685.56,788.59 L685.57,788.61 L685.58,788.62 L685.6,788.65 L685.61,788.66 L685.62,788.67 L685.64,788.69 L685.65,788.7 L685.66,788.71 L685.67,788.72 L685.68,788.73 L685.69,788.73 L685.7,788.74 L685.72,788.75 L685.72,788.75 L685.73,788.75 L685.74,788.76 L685.75,788.76 L685.76,788.76 L685.76,788.76 L685.76,788.76 L685.77,788.76 L685.78,788.76 L685.78,788.77 L685.78,788.77 L685.79,788.77 L685.79,788.77 L685.79,788.77 L685.8,788.77 L685.8,788.77 L685.8,788.77 L685.8,788.77 L685.8,788.77 L685.8,788.77 L685.8,788.77 L685.8,788.77 L685.8,788.77" fill="none" stroke="#ec2a2a" stroke-width="4.2"/>
<path d="M111,569.75 L115.31,569.75 L119.6,569.75 L123.87,569.76 L128.11,569.76 L132.34,569.76 L136.54,569.77 L140.72,569.77 L144.89,569.78 L149.03,569.78 L153.14,569.79 L157.24,569.8 L161.32,569.81 L165.37,569.82 L169.41,569.83 L173.42,569.84 L177.41,569.85 L181.38,569.86 L185.34,569.87 L189.27,569.89 L193.18,569.9 L197.06,569.92 L200.93,569.93 L204.78,569.95 L208.61,569.97 L212.42,569.98 L216.2,570 L219.97,570.02 L223.72,570.04 L227.44,570.06 L231.15,570.08 L234.84,570.1 L238.5,570.13 L242.15,570.15 L245.78,570.17 L249.38,570.2 L252.97,570.22 L256.54,570.25 L260.08,570.27 L263.61,570.3 L267.12,570.33 L270.61,570.36 L274.08,570.38 L277.53,570.41 L280.96,570.44 L284.37,570.48 L287.76,570.51 L291.14,570.54 L294.49,570.57 L297.83,570.61 L301.14,570.64 L304.44,570.68 L307.72,570.71 L310.98,570.75 L314.22,570.79 L317.44,570.83 L320.64,570.86 L323.83,570.9 L326.99,570.94 L330.14,570.99 L333.27,571.03 L336.38,571.07 L339.47,571.11 L342.55,571.16 L345.6,571.2 L348.64,571.25 L351.66,571.3 L354.66,571.34 L357.64,571.39 L360.61,571.44 L363.56,571.49 L366.48,571.54 L369.4,571.6 L372.29,571.65 L375.17,571.7 L378.03,571.76 L380.87,571.81 L383.69,571.87 L386.5,571.93 L389.28,571.99 L392.06,572.04 L394.81,572.11 L397.55,572.17 L400.27,572.23 L402.97,572.29 L405.65,572.36 L408.32,572.42 L410.97,572.49 L413.61,572.56 L416.22,572.63 L418.82,572.7 L421.41,572.77 L423.97,572.84 L426.52,572.91 L429.06,572.99 L431.57,573.06 L434.08,573.14 L436.56,573.22 L439.03,573.3 L441.48,573.38 L443.91,573.46 L446.33,573.54 L448.74,573.63 L451.12,573.71 L453.49,573.8 L455.85,573.89 L458.18,573.98 L460.51,574.07 L462.81,574.16 L465.11,574.26 L467.38,574.35 L469.64,574.45 L471.88,574.55 L474.11,574.65 L476.32,574.75 L478.52,574.86 L480.7,574.96 L482.87,575.07 L485.02,575.18 L487.16,575.29 L489.28,575.4 L491.38,575.51 L493.47,575.63 L495.55,575.75 L497.61,575.87 L499.66,575.99 L501.69,576.11 L503.7,576.24 L505.7,576.36 L507.69,576.49 L509.66,576.62 L511.62,576.76 L513.56,576.89 L515.49,577.03 L517.4,577.17 L519.3,577.32 L521.19,577.46 L523.06,577.61 L524.91,577.76 L526.76,577.91 L528.58,578.06 L530.4,578.22 L532.2,578.38 L533.98,578.54 L535.76,578.71 L537.51,578.88 L539.26,579.05 L540.99,579.22 L542.71,579.4 L544.41,579.57 L546.1,579.76 L547.78,579.94 L549.44,580.13 L551.09,580.32 L552.73,580.52 L554.35,580.71 L555.96,580.92 L557.55,581.12 L559.14,581.33 L560.71,581.54 L562.26,581.76 L563.81,581.98 L565.34,582.2 L566.86,582.42 L568.36,582.66 L569.86,582.89 L571.34,583.13 L572.8,583.37 L574.26,583.62 L575.7,583.87 L577.13,584.13 L578.55,584.39 L579.95,584.65 L581.35,584.92 L582.73,585.19 L584.1,585.47 L585.45,585.76 L586.8,586.05 L588.13,586.34 L589.45,586.64 L590.75,586.95 L592.05,587.26 L593.34,587.57 L594.61,587.89 L595.87,588.22 L597.12,588.55 L598.35,588.89 L599.58,589.24 L600.79,589.59 L602,589.95 L603.19,590.32 L604.37,590.69 L605.54,591.07 L606.7,591.45 L607.84,591.84 L608.98,592.24 L610.1,592.65 L611.21,593.07 L612.32,593.49 L613.41,593.92 L614.49,594.36 L615.56,594.81 L616.62,595.26 L617.67,595.73 L618.7,596.2 L619.73,596.68 L620.75,597.18 L621.75,597.68 L622.75,598.19 L623.73,598.71 L624.71,599.24 L625.67,599.78 L626.63,600.33 L627.57,600.89 L628.51,601.46 L629.43,602.05 L630.34,602.64 L631.25,603.25 L632.14,603.86 L633.03,604.49 L633.9,605.14 L634.77,605.79 L635.62,606.46 L636.47,607.14 L637.3,607.83 L638.13,608.54 L638.95,609.26 L639.75,610 L640.55,610.75 L641.34,611.52 L642.12,612.3 L642.89,613.09 L643.65,613.9 L644.41,614.73 L645.15,615.57 L645.89,616.43 L646.61,617.31 L647.33,618.2 L648.04,619.12 L648.74,620.05 L649.43,620.99 L650.11,621.96 L650.78,622.95 L651.45,623.95 L652.1,624.97 L652.75,626.02 L653.39,627.08 L654.02,628.17 L654.64,629.27 L655.26,630.4 L655.87,631.55 L656.47,632.72 L657.06,633.91 L657.64,635.13 L658.21,636.37 L658.78,637.63 L659.34,638.91 L659.89,640.22 L660.43,641.56 L660.97,642.92 L661.5,644.3 L662.02,645.71 L662.53,647.14 L663.04,648.6 L663.54,650.09 L664.03,651.6 L664.51,653.14 L664.99,654.7 L665.46,656.29 L665.92,657.91 L666.37,659.55 L666.82,661.22 L667.26,662.92 L667.7,664.65 L668.13,666.4 L668.55,668.18 L668.96,669.99 L669.37,671.83 L669.77,673.69 L670.16,675.58 L670.55,677.49 L670.93,679.43 L671.31,681.4 L671.68,683.39 L672.04,685.41 L672.39,687.45 L672.74,689.52 L673.09,691.61 L673.42,693.73 L673.76,695.86 L674.08,698.02 L674.3,699.53 L674.34,699.8 L674.38,700.06 L674.4,700.2 L674.42,700.33 L674.46,700.59 L674.5,700.86 L674.53,701.13 L674.57,701.4 L674.61,701.67 L674.65,701.94 L674.69,702.21 L674.71,702.4 L674.73,702.49 L674.77,702.76 L674.8,703.03 L674.84,703.31 L674.88,703.59 L674.92,703.86 L674.96,704.14 L675,704.42 L675.02,704.62 L675.03,704.7 L675.07,704.98 L675.11,705.27 L675.15,705.55 L675.19,705.83 L675.23,706.12 L675.27,706.41 L675.3,706.69 L675.32,706.85 L675.34,706.98 L675.38,707.27 L675.42,707.56 L675.46,707.85 L675.5,708.14 L675.53,708.44 L675.57,708.73 L675.61,709.03 L675.62,709.1 L675.65,709.32 L675.69,709.62 L675.73,709.92 L675.77,710.22 L675.8,710.52 L675.84,710.82 L675.88,711.12 L675.91,711.37 L675.92,711.42 L675.96,711.73 L676,712.03 L676.03,712.34 L676.07,712.65 L676.11,712.96 L676.15,713.26 L676.19,713.58 L676.2,713.65 L676.23,713.89 L676.26,714.2 L676.3,714.51 L676.34,714.83 L676.38,715.14 L676.42,715.46 L676.46,715.78 L676.48,715.94 L676.5,716.1 L676.53,716.42 L676.57,716.74 L676.61,717.06 L676.65,717.39 L676.69,717.71 L676.73,718.04 L676.75,718.25 L676.76,718.36 L676.8,718.69 L676.84,719.02 L676.88,719.35 L676.92,719.68 L676.96,720.02 L677,720.35 L677.02,720.56 L677.03,720.69 L677.07,721.02 L677.11,721.36 L677.15,721.7 L677.19,722.04 L677.23,722.38 L677.26,722.72 L677.28,722.89 L677.3,723.06 L677.34,723.41 L677.38,723.75 L677.42,724.1 L677.46,724.45 L677.5,724.79 L677.53,725.14 L677.54,725.21 L677.57,725.5 L677.61,725.85 L677.65,726.2 L677.69,726.56 L677.73,726.91 L677.76,727.27 L677.79,727.55 L677.8,727.63 L677.84,727.99 L677.88,728.35 L677.92,728.71 L677.96,729.07 L678,729.44 L678.03,729.8 L678.04,729.88 L678.07,730.17 L678.11,730.54 L678.15,730.91 L678.19,731.28 L678.23,731.65 L678.26,732.02 L678.28,732.22 L678.3,732.4 L678.34,732.77 L678.38,733.15 L678.42,733.53 L678.46,733.91 L678.49,734.29 L678.52,734.55 L678.53,734.67 L678.57,735.05 L678.61,735.43 L678.65,735.82 L678.69,736.21 L678.73,736.59 L678.75,736.88 L678.76,736.98 L678.8,737.37 L678.84,737.76 L678.88,738.16 L678.92,738.55 L678.96,738.95 L678.98,739.2 L678.99,739.34 L679.03,739.74 L679.07,740.14 L679.11,740.54 L679.15,740.94 L679.19,741.34 L679.2,741.52 L679.23,741.75 L679.26,742.15 L679.3,742.56 L679.34,742.97 L679.38,743.37 L679.42,743.78 L679.42,743.82 L679.46,744.19 L679.49,744.61 L679.53,745.02 L679.57,745.44 L679.61,745.85 L679.63,746.11 L679.65,746.27 L679.69,746.69 L679.73,747.11 L679.76,747.53 L679.8,747.95 L679.84,748.37 L679.84,748.38 L679.88,748.8 L679.92,749.22 L679.96,749.65 L679.99,750.07 L680.03,750.5 L680.04,750.63 L680.07,750.93 L680.11,751.36 L680.15,751.8 L680.19,752.23 L680.23,752.66 L680.24,752.86 L680.26,753.1 L680.3,753.53 L680.34,753.97 L680.38,754.41 L680.42,754.85 L680.44,755.07 L680.46,755.29 L680.49,755.73 L680.53,756.17 L680.57,756.62 L680.61,757.06 L680.63,757.25 L680.65,757.51 L680.69,757.95 L680.72,758.4 L680.76,758.85 L680.8,759.3 L680.81,759.4 L680.84,759.75 L680.88,760.2 L680.92,760.65 L680.96,761.1 L680.99,761.52 L680.99,761.55 L681.03,762.01 L681.07,762.46 L681.11,762.91 L681.15,763.37 L681.17,763.6 L681.19,763.83 L681.22,764.28 L681.26,764.74 L681.3,765.2 L681.34,765.64 L681.34,765.66 L681.38,766.12 L681.42,766.58 L681.46,767.04 L681.49,767.5 L681.51,767.64 L681.53,767.96 L681.57,768.42 L681.61,768.88 L681.65,769.35 L681.67,769.6 L681.69,769.81 L681.72,770.27 L681.76,770.73 L681.8,771.2 L681.83,771.51 L681.84,771.66 L681.88,772.12 L681.92,772.58 L681.96,773.05 L681.98,773.38 L681.99,773.51 L682.03,773.97 L682.07,774.44 L682.11,774.9 L682.13,775.19 L682.15,775.36 L682.19,775.82 L682.22,776.28 L682.26,776.74 L682.28,776.95 L682.3,777.2 L682.34,777.66 L682.38,778.12 L682.42,778.58 L682.42,778.65 L682.46,779.04 L682.49,779.5 L682.53,779.95 L682.56,780.3 L682.57,780.41 L682.61,780.86 L682.65,781.31 L682.69,781.76 L682.7,781.89 L682.72,782.21 L682.76,782.66 L682.8,783.11 L682.83,783.42 L682.84,783.56 L682.88,784 L682.92,784.45 L682.95,784.88 L682.95,784.89 L682.99,785.33 L683.03,785.76 L683.07,786.2 L683.08,786.29 L683.11,786.63 L683.15,787.06 L683.19,787.49 L683.2,787.64 L683.22,787.92 L683.26,788.34 L683.3,788.76 L683.31,788.92 L683.34,789.18 L683.38,789.6 L683.42,790.01 L683.43,790.13 L683.45,790.42 L683.49,790.83 L683.53,791.23 L683.54,791.29 L683.57,791.63 L683.61,792.03 L683.64,792.38 L683.65,792.42 L683.69,792.81 L683.72,793.19 L683.75,793.42 L683.76,793.58 L683.8,793.95 L683.84,794.33 L683.85,794.39 L683.88,794.7 L683.92,795.06 L683.94,795.3 L683.95,795.42 L683.99,795.77 L684.03,796.12 L684.03,796.15 L684.07,796.47 L684.11,796.81 L684.12,796.95 L684.15,797.15 L684.19,797.48 L684.21,797.69 L684.22,797.8 L684.26,798.12 L684.29,798.38 L684.3,798.43 L684.34,798.74 L684.38,799.02 L684.38,799.04 L684.42,799.33 L684.45,799.61 L684.45,799.62 L684.49,799.9 L684.53,800.15 L684.53,800.18 L684.57,800.45 L684.6,800.65 L684.61,800.71 L684.65,800.97 L684.67,801.11 L684.69,801.21 L684.72,801.45 L684.74,801.53 L684.76,801.69 L684.8,801.91 L684.8,801.91 L684.84,802.13 L684.86,802.25 L684.88,802.34 L684.92,802.55 L684.92,802.57 L684.95,802.74 L684.98,802.85 L684.99,802.93 L685.03,803.1 L685.03,803.11 L685.07,803.28 L685.08,803.33 L685.11,803.45 L685.13,803.54 L685.15,803.6 L685.18,803.72 L685.18,803.75 L685.22,803.88 L685.22,803.89 L685.26,804.02 L685.26,804.02 L685.3,804.14 L685.3,804.15 L685.34,804.25 L685.34,804.26 L685.38,804.35 L685.38,804.36 L685.41,804.44 L685.42,804.45 L685.44,804.51 L685.45,804.54 L685.47,804.58 L685.49,804.61 L685.5,804.63 L685.53,804.68 L685.53,804.68 L685.56,804.72 L685.57,804.74 L685.58,804.75 L685.6,804.78 L685.61,804.79 L685.62,804.81 L685.64,804.83 L685.65,804.83 L685.66,804.84 L685.67,804.86 L685.68,804.86 L685.69,804.87 L685.7,804.88 L685.72,804.88 L685.72,804.89 L685.73,804.89 L685.74,804.89 L685.75,804.9 L685.76,804.9 L685.76,804.9 L685.76,804.9 L685.77,804.9 L685.78,804.9 L685.78,804.9 L685.78,804.9 L685.79,804.9 L685.79,804.9 L685.79,804.9 L685.8,804.9 L685.8,804.9 L685.8,804.9 L685.8,804.9 L685.8,804.9 L685.8,804.9 L685.8,804.9 L685.8,804.9 L685.8,804.9" fill="none" stroke="#2457a7" stroke-width="4.2" stroke-dasharray="22.25 7.78"/>
<rect x="111.0" y="440.5" width="574.8" height="371.5" fill="none" stroke="#000" stroke-width="2"/>
<text x="65.8" y="493.2" font-size="34.8" style="fill:#000;stroke:none">12</text>
<text x="65.8" y="574.6" font-size="34.8" style="fill:#000;stroke:none">10</text>
<text x="82.4" y="657" font-size="34.8" style="fill:#000;stroke:none">8</text>
<text x="82.4" y="738.7" font-size="34.8" style="fill:#000;stroke:none">6</text>
<text x="82.3" y="820" font-size="34.8" style="fill:#000;stroke:none">4</text>
<text x="110.2" y="844" font-size="34.8" style="fill:#000;stroke:none" text-anchor="middle">0</text>
<text x="227.76" y="844" font-size="34.8" style="fill:#000;stroke:none" text-anchor="middle">0.1</text>
<text x="342.72" y="844" font-size="34.8" style="fill:#000;stroke:none" text-anchor="middle">0.2</text>
<text x="457.68" y="844" font-size="34.8" style="fill:#000;stroke:none" text-anchor="middle">0.3</text>
<text x="572.64" y="844" font-size="34.8" style="fill:#000;stroke:none" text-anchor="middle">0.4</text>
<text x="687.6" y="844" font-size="34.8" style="fill:#000;stroke:none" text-anchor="middle">0.5</text>
<text x="169" y="695.5" font-size="30.5" style="fill:#000;stroke:none">4mm</text>
<text x="142.7" y="725.4" font-size="30.5" style="fill:#000;stroke:none">4.5mm</text>
<text x="169.2" y="755.4" font-size="30.5" style="fill:#000;stroke:none">5mm</text>
<text x="157.7" y="789.7" font-size="36" class="sy">ω</text>
<text x="180.6" y="796.6" font-size="22.8">2</text>
<text x="193.5" y="789.5" font-size="30.3">/2</text>
<text x="219.2" y="789.7" font-size="35" class="sy">π</text>
<path d="M245.2,686.3H336.3" stroke="#33874a" stroke-width="4.2" stroke-dasharray="11.4 11.1" fill="none"/>
<path d="M245.2,718.7H336.3" stroke="#ec2a2a" stroke-width="4.2" fill="none"/>
<path d="M245.2,750.8H336.3" stroke="#2457a7" stroke-width="4.2" stroke-dasharray="22.3 7.8" fill="none"/>
<path d="M245.2,782.7H336.3" stroke="#58595b" stroke-width="1.2" fill="none"/>
<text transform="translate(50.8,729.9) rotate(-90)" font-size="44" class="sy">ω</text>
<text transform="translate(57.6,701.2) rotate(-90)" font-size="26.6">3</text>
<text transform="translate(50.2,685.6) rotate(-90)" font-size="38.4">/2</text>
<text transform="translate(50.4,654.6) rotate(-90)" font-size="43" class="sy">π</text>
<text transform="translate(49.9,622.4) rotate(-90)" font-size="38.4">(GHz)</text>
<text x="340.8" y="887.9" font-size="42.5" class="sy">Φ</text>
<text x="372" y="895.6" font-size="26.7">ex</text>
<text x="400" y="888.4" font-size="38">/</text>
<text x="410.3" y="887.9" font-size="42.5" class="sy">Φ</text>
<text x="442" y="895.6" font-size="26.7">0</text>
<text class="pl" x="-2.4" y="474" font-size="45.5">(c)</text>
</g>
</svg></body></html>
